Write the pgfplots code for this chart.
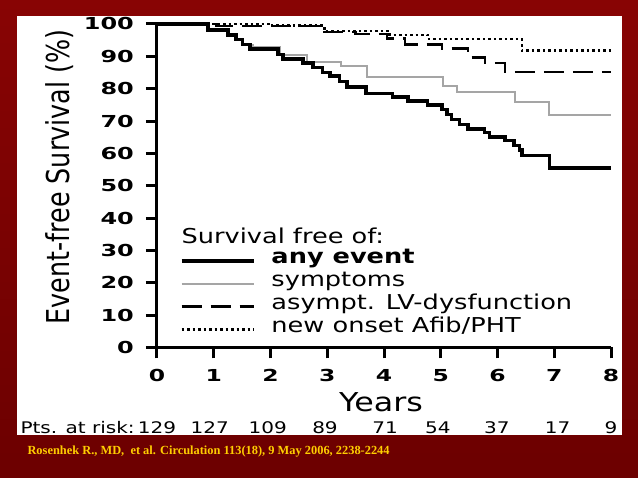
\documentclass[border=0pt]{standalone}
\usepackage{fontspec}
\setmainfont{DejaVu Sans}
\newfontfamily\citefont{Liberation Serif}
\usepackage{graphicx}
\usepackage{pgfplots}
\usepackage{pgfplotstable}
\pgfplotsset{compat=1.18}

\definecolor{slidetop}{RGB}{136,4,4}
\definecolor{slidebot}{RGB}{108,0,0}
\definecolor{citeyellow}{RGB}{255,206,0}
\definecolor{symgray}{RGB}{165,165,165}
\newcommand{\hs}[1]{\scalebox{1.25}[1]{#1}}

\pgfplotstableread{
t v
0 100
0.90 98.2
1.25 96.6
1.39 95.2
1.51 93.6
1.64 92.2
2.13 90.5
2.22 89.2
2.57 88.0
2.75 86.5
2.92 85.0
3.05 84.0
3.22 82.2
3.35 80.5
3.68 78.5
4.15 77.5
4.42 76.2
4.77 75.0
5.02 73.5
5.11 72.0
5.19 70.5
5.33 69.0
5.48 67.5
5.77 66.5
5.86 65.0
6.13 64.0
6.29 62.5
6.39 61.0
6.43 59.3
6.92 55.5
8.00 55.5
}\anyevent

\pgfplotstableread{
t v
0 100
0.90 98.2
1.25 96.6
1.39 95.2
1.51 93.6
1.69 93.0
2.17 90.4
2.65 88.3
3.25 87.0
3.70 83.7
5.04 80.7
5.29 79.0
6.30 76.0
6.90 72.0
8.00 72.0
}\symptoms

\pgfplotstableread{
t v
0 100
1.05 99.4
2.95 97.6
3.50 96.9
4.05 95.5
4.37 93.7
5.02 92.5
5.48 89.7
5.78 87.9
6.13 85.1
8.00 85.1
}\lvdys

\pgfplotstableread{
t v
0 100
2.00 99.5
2.95 97.8
4.10 96.6
4.77 95.3
6.43 91.8
8.00 91.8
}\afib

\begin{document}
\begin{tikzpicture}
\useasboundingbox (0,0) rectangle (638pt,478pt);
\shade[top color=slidetop, bottom color=slidebot] (0,0) rectangle (638pt,478pt);
\fill[white] (17pt,43pt) rectangle (622pt,462pt);
\begin{axis}[
  at={(157pt,130.5pt)}, anchor=south west,
  x=56.75pt, y=3.235pt,
  xmin=0, xmax=8, ymin=0, ymax=100,
  axis x line=bottom, axis y line=left,
  axis line style={line width=3pt,-,black},
  xtick={0,...,8}, ytick={0,10,...,100},
  tick align=outside, major tick length=11pt,
  every tick/.style={line width=3pt, black},
  clip=false,
  tick label style={font=\fontsize{16.5}{18}\selectfont\bfseries, inner sep=0pt},
  yticklabel={\scalebox{1.45}[1]{\pgfmathprintnumber[assume math mode=true]{\tick}}},
  xticklabel={\scalebox{1.42}[1]{\pgfmathprintnumber[assume math mode=true]{\tick}}},
  yticklabel style={anchor=east, xshift=-12pt},
  xticklabel style={anchor=north, yshift=-11pt},
  ylabel={\scalebox{1}[1.24]{Event-free Survival (\%)}},
  ylabel style={at={(axis cs:-1.55,52.7)}, anchor=base, font=\fontsize{25.4}{30}\selectfont},
  xlabel={\scalebox{1.22}[1]{Years}},
  xlabel style={at={(axis cs:3.947,-19.94)}, anchor=base, font=\fontsize{26}{30}\selectfont},
  legend style={at={(axis cs:0.405,30.76)}, anchor=north west, draw=none, fill=none,
    inner sep=0pt, outer sep=0pt, row sep=0pt, column sep=16pt,
    font=\fontsize{20.5}{24}\selectfont,
    nodes={inner sep=0pt, text height=16pt, text depth=6.9pt}},
  legend cell align=left,
  legend image code/.code={\draw[#1] (0pt,-1.5pt) -- (72pt,-1.5pt);},
  reverse legend,
]
\addplot[const plot, line width=2.5pt, dash pattern=on 2.5pt off 3pt] table {\afib};
\addlegendentry{\hs{new onset Afib/PHT}}
\addplot[const plot, line width=2.5pt, dash pattern=on 20pt off 9pt] table {\lvdys};
\addlegendentry{\hs{asympt. LV-dysfunction}}
\addplot[const plot, line width=2pt, color=symgray] table {\symptoms};
\addlegendentry{\hs{symptoms}}
\addplot[const plot, line width=3.5pt, black] table {\anyevent};
\addlegendentry{\hs{\bfseries any event}}

\node[anchor=base west, font=\fontsize{20.5}{24}\selectfont] at (axis cs:0.37,32.2) {\hs{Survival free of:}};

\node[anchor=base west, font=\fontsize{16}{18}\selectfont] at (axis cs:-2.467,-26.7) {\hs{Pts. at risk:}};
\node[anchor=base, font=\fontsize{16}{18}\selectfont] at (axis cs:0,-26.7) {\hs{129}};
\node[anchor=base, font=\fontsize{16}{18}\selectfont] at (axis cs:0.93,-26.7) {\hs{127}};
\node[anchor=base, font=\fontsize{16}{18}\selectfont] at (axis cs:1.95,-26.7) {\hs{109}};
\node[anchor=base, font=\fontsize{16}{18}\selectfont] at (axis cs:2.96,-26.7) {\hs{89}};
\node[anchor=base, font=\fontsize{16}{18}\selectfont] at (axis cs:4.02,-26.7) {\hs{71}};
\node[anchor=base, font=\fontsize{16}{18}\selectfont] at (axis cs:4.95,-26.7) {\hs{54}};
\node[anchor=base, font=\fontsize{16}{18}\selectfont] at (axis cs:5.99,-26.7) {\hs{37}};
\node[anchor=base, font=\fontsize{16}{18}\selectfont] at (axis cs:7.06,-26.7) {\hs{17}};
\node[anchor=base, font=\fontsize{16}{18}\selectfont] at (axis cs:8.0,-26.7) {\hs{9}};
\end{axis}
\node[anchor=base west, text=citeyellow, font=\citefont\bfseries\fontsize{12.4}{14}\selectfont] at (24pt,23pt) {Rosenhek R., MD,\ \ et al. Circulation 113(18), 9 May 2006, 2238-2244};
\end{tikzpicture}
\end{document}
